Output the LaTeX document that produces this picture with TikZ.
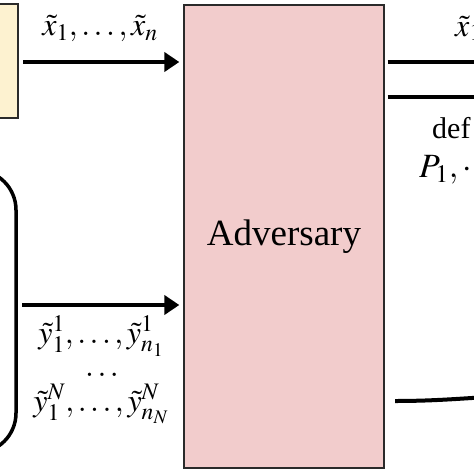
\documentclass[tikz,border=0pt]{standalone}
\usepackage{mathptmx}
\usepackage[no-math]{fontspec}
\setmainfont{Liberation Serif}
\usetikzlibrary{arrows.meta}
\definecolor{yelfill}{HTML}{FDF2D0}
\definecolor{advfill}{HTML}{F2CCCC}
\definecolor{edge}{HTML}{2A2A2A}
\tikzset{
  thickarr/.style={line width=4pt, -{Triangle[length=15pt,width=19pt]}},
  thickline/.style={line width=4pt},
  mlabel/.style={inner sep=0pt, font=\fontsize{32}{36}\selectfont},
  tlabel/.style={inner sep=0pt, font=\fontsize{30}{34}\selectfont},
  plabel/.style={inner sep=0pt, font=\fontsize{34}{38}\selectfont},
}
\begin{document}
\begin{tikzpicture}[x=1pt,y=-1pt]
\useasboundingbox (0,0) rectangle (474,474);
\clip (0,0) rectangle (474,474);
% boxes
\node[draw=edge, line width=1.3pt, fill=yelfill, minimum width=58pt, minimum height=114pt, inner sep=0pt] (yel) at (-11,61) {};
\node[draw=edge, line width=1.3pt, fill=advfill, minimum width=200pt, minimum height=463pt, inner sep=0pt, font=\fontsize{37}{40}\selectfont] (adv) at (284,236.5) {Adversary};
\node[draw=black, line width=3.5pt, fill=white, rounded corners=40pt, minimum width=116pt, minimum height=283pt, inner sep=0pt] (rb) at (-42,311.5) {};
% coordinates for connectors
\coordinate (a1s) at (23,62);
\coordinate (a2s) at (22,305);
\coordinate (o1) at (480,62);
\coordinate (o2) at (480,97);
\coordinate (o3s) at (395,401);
\coordinate (o3) at (480,397.5);
% connectors
\draw[thickarr, shorten >=4pt] (a1s) -- (adv.west |- a1s);
\draw[thickarr, shorten >=4pt] (a2s) -- (adv.west |- a2s);
\draw[thickline] ([xshift=3pt]adv.east |- o1) -- (o1);
\draw[thickline] ([xshift=3pt]adv.east |- o2) -- (o2);
\draw[thickline] (o3s) .. controls (430,401) and (455,399) .. (o3);
% labels
\node[mlabel] (l1) at (100,29) {$\tilde{x}_1,\ldots,\tilde{x}_n$};
\node[mlabel] (l2) at (101,336) {$\tilde{y}^1_1,\ldots,\tilde{y}^1_{n_1}$};
\node[mlabel] (l3) at (102,375) {$\ldots$};
\node[mlabel] (l4) at (101,404) {$\tilde{y}^N_1,\ldots,\tilde{y}^N_{n_N}$};
\node[mlabel, anchor=base west] (r1) at (455,36) {$\tilde{x}_1$};
\node[tlabel, anchor=base west] (r2) at (432,138) {def};
\node[plabel, anchor=base west] (r3) at (419,177) {$P_1,\cdots$};
\end{tikzpicture}
\end{document}
